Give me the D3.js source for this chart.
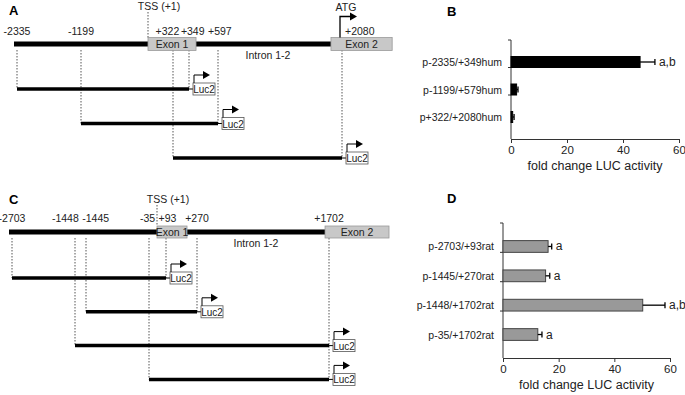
<!DOCTYPE html>
<html lang="en">
<head>
<meta charset="utf-8" />
<title>Promoter constructs and LUC activity</title>
<script src="https://cdnjs.cloudflare.com/ajax/libs/d3/7.8.5/d3.min.js"></script>
<style>
  body { margin: 0; background: #fff; }
  svg { display: block; font-family: "Liberation Sans", Arial, sans-serif; }
  .pos { font-size: 10.5px; fill: #222; }
  .panel { font-size: 13px; font-weight: bold; }
  .cat { font-size: 10.5px; fill: #222; }
  .axis text { font-size: 11.5px; fill: #222; font-family: "Liberation Sans", Arial, sans-serif; }
  .axis path, .axis line { stroke: #333; }
  .xlabel { font-size: 12.5px; fill: #222; }
</style>
</head>
<body>
<svg width="685" height="395"></svg>
<script>
// ---- data: human promoter (A) ----
var humMarks = [-2335, -1199, 322, 349, 597, 2080];
var humExons = [[1, 409], [1948, 2680]];
var humConstructs = [[-2335, 349], [-1199, 597], [322, 2080]];
var humAtg = 2080;

// ---- data: rat promoter (C) ----
var ratMarks = [-2703, -1448, -1445, -35, 93, 270, 1702];
var ratExons = [[1, 213], [1659, 2353]];
var ratConstructs = [[-2703, 93], [-1445, 270], [-1448, 1702], [-35, 1702]];

// ---- data: LUC activity (B, D) ----
var humNames = ["p-2335/+349hum", "p-1199/+579hum", "p+322/+2080hum"];
var humValues = [46.1, 2.0, 0.6];
var humErrors = [5.3, 0.5, 0.5];
var humLetters = ["a,b", "", ""];

var ratNames = ["p-2703/+93rat", "p-1445/+270rat", "p-1448/+1702rat", "p-35/+1702rat"];
var ratValues = [16.2, 15.3, 50.2, 12.5];
var ratErrors = [1.3, 1.5, 8.0, 1.5];
var ratLetters = ["a", "a", "a,b", "a"];

var xTicks = [0, 20, 40, 60];

var svg = d3.select("svg");

function fmtPos(d) { return d > 0 ? "+" + d : String(d); }

// schematic (not to scale) map of base positions onto the drawing
function drawGene(cfg) {
  var g = svg.append("g");
  var x = d3.scaleLinear().domain(cfg.knots).range(cfg.px);
  var my = cfg.mainY;
  var rowY = function(i) { return cfg.rowTop + i * cfg.rowStep; };

  g.append("text").attr("class", "panel").attr("x", cfg.letterX).attr("y", cfg.letterY).text(cfg.letter);

  // dotted guides from each marked position down to its construct
  cfg.marks.forEach(function(m) {
    var deepest = -1;
    cfg.constructs.forEach(function(c, i) { if (c[0] === m || c[1] === m) deepest = i; });
    if (deepest < 0) return;
    g.append("line")
      .attr("x1", x(m)).attr("x2", x(m))
      .attr("y1", my + 6).attr("y2", rowY(deepest))
      .attr("stroke", "#555").attr("stroke-width", 1).attr("stroke-dasharray", "1.5,1.5");
  });

  // TSS guide
  g.append("line")
    .attr("x1", x(1)).attr("x2", x(1))
    .attr("y1", cfg.tssY + 2).attr("y2", my - 6)
    .attr("stroke", "#555").attr("stroke-dasharray", "1.5,1.5");
  g.append("text").attr("class", "pos").attr("x", x(1) + 11).attr("y", cfg.tssY)
    .attr("text-anchor", "middle").text("TSS (+1)");

  // main genomic line
  g.append("line")
    .attr("x1", x(cfg.marks[0]) - 3).attr("x2", x(cfg.exons[1][0]))
    .attr("y1", my).attr("y2", my)
    .attr("stroke", "#000").attr("stroke-width", 5);

  // exons
  cfg.exons.forEach(function(e, i) {
    g.append("rect")
      .attr("x", x(e[0])).attr("y", my - cfg.exonH / 2)
      .attr("width", x(e[1]) - x(e[0])).attr("height", cfg.exonH)
      .attr("fill", "#c8c8c8").attr("stroke", "#999").attr("stroke-width", 0.8);
    g.append("text").attr("class", "pos")
      .attr("x", (x(e[0]) + x(e[1])) / 2).attr("y", my + 4)
      .attr("text-anchor", "middle").text("Exon " + (i + 1));
  });

  g.append("text").attr("class", "pos")
    .attr("x", cfg.intronX).attr("y", my + 15)
    .attr("text-anchor", "middle").text("Intron 1-2");

  // ATG arrow
  if (cfg.atg != null) {
    var ax = x(cfg.atg) - 2, top = my - cfg.exonH / 2;
    g.append("path")
      .attr("d", "M" + ax + "," + top + "V" + (top - 21) + "H" + (ax + 11))
      .attr("fill", "none").attr("stroke", "#000").attr("stroke-width", 1.3);
    g.append("path")
      .attr("d", "M" + (ax + 10) + "," + (top - 25) + "l7,4 l-7,4z").attr("fill", "#000");
    g.append("text").attr("class", "pos").attr("x", ax + 6).attr("y", top - 27)
      .attr("text-anchor", "middle").text("ATG");
  }

  // position labels, pushed apart where neighbours would collide
  var labels = cfg.marks.map(function(m) {
    var t = g.append("text").attr("class", "pos").attr("y", cfg.labelY).text(fmtPos(m));
    return { m: m, node: t, cx: x(m), w: t.node().getComputedTextLength() };
  });
  for (var i = 0; i < labels.length - 1; i++) {
    var a = labels[i], b = labels[i + 1];
    if (b.m === cfg.atg) continue;
    var need = (a.w + b.w) / 2 + 3.5, gap = b.cx - a.cx;
    if (gap < need) { a.cx -= (need - gap) / 2; b.cx += (need - gap) / 2; }
  }
  labels.forEach(function(l) {
    if (l.m === cfg.atg) l.node.attr("x", l.cx + 3).attr("text-anchor", "start");
    else l.node.attr("x", l.cx).attr("text-anchor", "middle");
  });

  // reporter constructs
  cfg.constructs.forEach(function(c, i) {
    var y = rowY(i), x0 = x(c[0]), x1 = x(c[1]), bx = x1 + 4;
    g.append("line").attr("x1", x0).attr("x2", x1).attr("y1", y).attr("y2", y)
      .attr("stroke", "#000").attr("stroke-width", 3.5);
    g.append("line").attr("x1", x1).attr("x2", bx).attr("y1", y).attr("y2", y)
      .attr("stroke", "#000").attr("stroke-width", 1);
    g.append("rect").attr("x", bx).attr("y", y - 6).attr("width", 22).attr("height", 12)
      .attr("fill", "#fff").attr("stroke", "#555").attr("stroke-width", 0.8);
    g.append("text").attr("class", "pos").attr("x", bx + 11).attr("y", y + 4)
      .attr("text-anchor", "middle").style("font-size", "10px").text("Luc2");
    g.append("path")
      .attr("d", "M" + (bx + 1) + "," + (y - 6) + "V" + (y - 14) + "H" + (bx + 11))
      .attr("fill", "none").attr("stroke", "#000").attr("stroke-width", 1);
    g.append("path")
      .attr("d", "M" + (bx + 10) + "," + (y - 18) + "l7,4 l-7,4z").attr("fill", "#000");
  });
}

function drawBars(cfg) {
  var g = svg.append("g");
  var x = d3.scaleLinear().domain([0, 60]).range([cfg.left, cfg.right]);
  var y = d3.scaleBand().domain(cfg.names).range([cfg.top, cfg.bottom]).padding(0.6);

  g.append("text").attr("class", "panel").attr("x", cfg.letterX).attr("y", cfg.letterY).text(cfg.letter);

  g.append("g").attr("class", "axis")
    .attr("transform", "translate(0," + cfg.bottom + ")")
    .call(d3.axisBottom(x).tickValues(xTicks).tickSize(4).tickSizeOuter(0));

  g.append("line").attr("x1", cfg.left).attr("x2", cfg.left)
    .attr("y1", cfg.top).attr("y2", cfg.bottom).attr("stroke", "#333");
  d3.range(cfg.names.length).forEach(function(i) {
    var ty = cfg.top + i * y.step();
    g.append("line").attr("x1", cfg.left - 3).attr("x2", cfg.left)
      .attr("y1", ty).attr("y2", ty).attr("stroke", "#333");
  });

  cfg.names.forEach(function(n, i) {
    var by = y(n), mid = by + y.bandwidth() / 2;
    g.append("text").attr("class", "cat").attr("x", cfg.left - 9).attr("y", mid + 4)
      .attr("text-anchor", "end").text(n);
    g.append("rect").attr("x", x(0)).attr("y", by)
      .attr("width", x(cfg.values[i]) - x(0)).attr("height", y.bandwidth())
      .attr("fill", cfg.fill).attr("stroke", cfg.stroke).attr("stroke-width", 1);
    var ex = x(cfg.values[i] + cfg.errors[i]);
    g.append("line").attr("x1", x(cfg.values[i])).attr("x2", ex)
      .attr("y1", mid).attr("y2", mid).attr("stroke", "#000").attr("stroke-width", 1.3);
    g.append("line").attr("x1", ex).attr("x2", ex)
      .attr("y1", mid - 3).attr("y2", mid + 3).attr("stroke", "#000").attr("stroke-width", 1.3);
    if (cfg.letters[i]) {
      g.append("text").attr("class", "cat").attr("x", ex + 4).attr("y", mid + 4)
        .style("font-size", "12px").text(cfg.letters[i]);
    }
  });

  g.append("text").attr("class", "xlabel")
    .attr("x", (cfg.left + cfg.right) / 2).attr("y", cfg.bottom + 31)
    .attr("text-anchor", "middle").text("fold change LUC activity");
}

drawGene({
  letter: "A", letterX: 9, letterY: 15,
  knots: [-2335, -1199, 1, 322, 349, 597, 2080],
  px: [17, 81, 148, 173, 189, 218, 342],
  marks: humMarks, exons: humExons, constructs: humConstructs, atg: humAtg,
  mainY: 44, exonH: 13, tssY: 10, labelY: 35, intronX: 268,
  rowTop: 89, rowStep: 34.5
});

drawGene({
  letter: "C", letterX: 9, letterY: 204,
  knots: [-2703, -1448, -1445, -35, 1, 93, 270, 1702],
  px: [12, 75, 86, 149, 157, 166, 197, 329],
  marks: ratMarks, exons: ratExons, constructs: ratConstructs, atg: null,
  mainY: 232, exonH: 12, tssY: 203, labelY: 222, intronX: 256,
  rowTop: 278, rowStep: 33.8
});

drawBars({
  letter: "B", letterX: 447, letterY: 16,
  names: humNames, values: humValues, errors: humErrors, letters: humLetters,
  left: 511, right: 679, top: 40, bottom: 139, fill: "#000", stroke: "#000"
});

drawBars({
  letter: "D", letterX: 447, letterY: 203,
  names: ratNames, values: ratValues, errors: ratErrors, letters: ratLetters,
  left: 503, right: 670, top: 223, bottom: 358, fill: "#999", stroke: "#444"
});
</script>
</body>
</html>
